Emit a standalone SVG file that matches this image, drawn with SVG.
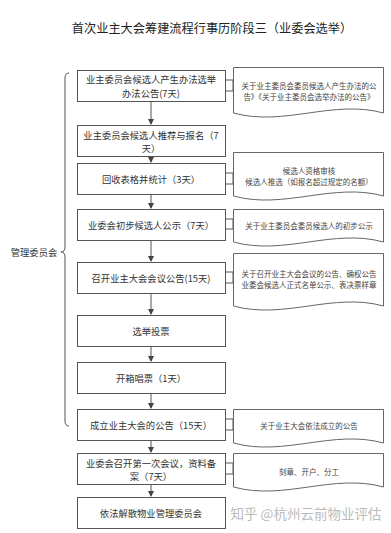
<svg xmlns="http://www.w3.org/2000/svg" width="391" height="533" viewBox="0 0 391 533">
<style>
text{font-family:"Noto Sans CJK SC","Noto Sans",sans-serif;text-anchor:middle;dominant-baseline:central}
.t{font-size:12.2px;fill:#222}
.b{fill:#fff;stroke:#555;stroke-width:1}
.bt{font-size:9.3px;fill:#333}
.n{fill:#fff;stroke:#666;stroke-width:1}
.nt{font-size:7.5px;fill:#444}
.c{fill:none;stroke:#555;stroke-width:1}
.wm{font-size:13.5px;fill:#bbb}
</style>
<defs>
<marker id="ah" markerWidth="6" markerHeight="6" refX="5" refY="3" orient="auto" markerUnits="userSpaceOnUse">
<path d="M0,0 L6,3 L0,6 Z" fill="#444"/>
</marker>
</defs>
<rect width="391" height="533" fill="#fff"/>
<text class="t" x="212" y="28">首次业主大会筹建流程行事历阶段三（业委会选举）</text>

<g id="brace">
<path class="c" d="M69,73 Q65,73 65,78 V247 Q65,252 61,252 Q65,252 65,257 V421 Q65,426 69,426"/>
<text class="bt" x="34" y="252">管理委员会</text>
</g>

<g id="connectors">
<path class="c" d="M151,101 V124" marker-end="url(#ah)"/>
<path class="c" d="M151,157 V162" marker-end="url(#ah)"/>
<path class="c" d="M151,194 V208" marker-end="url(#ah)"/>
<path class="c" d="M151,241 V261" marker-end="url(#ah)"/>
<path class="c" d="M151,293 V314" marker-end="url(#ah)"/>
<path class="c" d="M151,346 V361" marker-end="url(#ah)"/>
<path class="c" d="M151,393 V408" marker-end="url(#ah)"/>
<path class="c" d="M151,440 V452" marker-end="url(#ah)"/>
<path class="c" d="M151,484 V496" marker-end="url(#ah)"/>
<path class="c" d="M225,80 H233 V91 H225"/>
<path class="c" d="M225,173 H233 V184 H225"/>
<path class="c" d="M225,219 H233 V229 H225"/>
<path class="c" d="M225,272 H233 V283 H225"/>
<path class="c" d="M225,419 H233 V430 H225"/>
<path class="c" d="M225,463 H233 V474 H225"/>
</g>

<g id="box1"><rect class="b" x="77.5" y="70.5" width="148" height="31"/>
<text class="bt" x="151" y="79">业主委员会候选人产生办法选举</text>
<text class="bt" x="151" y="92.5">办法公告(7天)</text></g>
<g id="box2"><rect class="b" x="77.5" y="125.5" width="148" height="31"/>
<text class="bt" x="151" y="134.5">业主委员会候选人推荐与报名（7</text>
<text class="bt" x="151" y="148">天）</text></g>
<g id="box3"><rect class="b" x="77.5" y="163.5" width="148" height="31"/>
<text class="bt" x="151" y="179">回收表格并统计（3天）</text></g>
<g id="box4"><rect class="b" x="77.5" y="209.5" width="148" height="31"/>
<text class="bt" x="151" y="225">业委会初步候选人公示（7天）</text></g>
<g id="box5"><rect class="b" x="77.5" y="262.5" width="148" height="31"/>
<text class="bt" x="151" y="278">召开业主大会会议公告(15天)</text></g>
<g id="box6"><rect class="b" x="77.5" y="315.5" width="148" height="31"/>
<text class="bt" x="151" y="331">选举投票</text></g>
<g id="box7"><rect class="b" x="77.5" y="362.5" width="148" height="31"/>
<text class="bt" x="151" y="378">开箱唱票（1天）</text></g>
<g id="box8"><rect class="b" x="77.5" y="409.5" width="148" height="31"/>
<text class="bt" x="151" y="425">成立业主大会的公告（15天）</text></g>
<g id="box9"><rect class="b" x="77.5" y="453.5" width="148" height="31"/>
<text class="bt" x="151" y="462.5">业委会召开第一次会议，资料备</text>
<text class="bt" x="151" y="476">案（7天）</text></g>
<g id="box10"><rect class="b" x="77.5" y="497.5" width="148" height="31"/>
<text class="bt" x="151" y="513">依法解散物业管理委员会</text></g>

<g id="note1"><path class="n" d="M233.5,67.5 H383.5 V113 C333,99 284,127 233.5,113 Z"/>
<text class="nt" x="309" y="85">关于业主委员会委员候选人产生办法的公</text>
<text class="nt" x="309" y="96">告》《关于业主委员会选举办法的公告》</text></g>
<g id="note2"><path class="n" d="M233.5,152.5 H383.5 V196 C333,182 284,210 233.5,196 Z"/>
<text class="nt" x="309" y="170.5">候选人资格审核</text>
<text class="nt" x="309" y="181.5">候选人推选（如报名超过规定的名额）</text></g>
<g id="note3"><path class="n" d="M233.5,209.5 H383.5 V242 C333,228 284,256 233.5,242 Z"/>
<text class="nt" x="309" y="225">关于业主委员会委员候选人的初步公示</text></g>
<g id="note4"><path class="n" d="M233.5,253.5 H383.5 V306 C333,292 284,320 233.5,306 Z"/>
<text class="nt" x="309" y="273.5">关于召开业主大会会议的公告、确权公告</text>
<text class="nt" x="309" y="284.5">业委会候选人正式名单公示、表决票样章</text></g>
<g id="note5"><path class="n" d="M233.5,409.5 H383.5 V443 C333,429 284,457 233.5,443 Z"/>
<text class="nt" x="309" y="425">关于业主大会依法成立的公告</text></g>
<g id="note6"><path class="n" d="M233.5,453.5 H383.5 V487 C333,473 284,501 233.5,487 Z"/>
<text class="nt" x="309" y="471">刻章、开户、分工</text></g>

<text class="wm" x="306" y="513">知乎 @杭州云前物业评估</text>
</svg>
